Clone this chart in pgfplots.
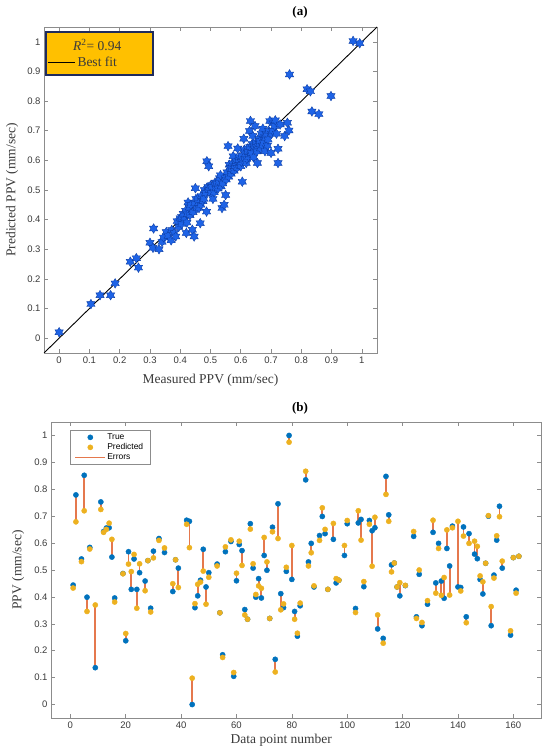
\documentclass[border=0pt]{standalone}
\usepackage{fontspec}
\setmainfont{Liberation Serif}
\newfontfamily\sansf{Liberation Sans}
\usepackage{pgfplots}
\usepackage{pgfplotstable}
\pgfplotsset{compat=1.18}

\definecolor{mblue}{HTML}{0072BD}
\definecolor{morange}{HTML}{EDB120}
\definecolor{merr}{HTML}{E5784D}
\definecolor{starfill}{HTML}{1E63E6}
\definecolor{staredge}{HTML}{0D3FA8}
\definecolor{axgray}{HTML}{8C8C8C}
\definecolor{tickgray}{HTML}{3A3A3A}
\definecolor{gold}{HTML}{FFC000}
\definecolor{navy}{HTML}{1F2B5C}

% filled six-pointed star
\pgfdeclareplotmark{hexstar}{%
  \pgfpathmoveto{\pgfqpointpolar{90}{\pgfplotmarksize}}%
  \pgfpathlineto{\pgfqpointpolar{120}{0.577\pgfplotmarksize}}%
  \pgfpathlineto{\pgfqpointpolar{150}{\pgfplotmarksize}}%
  \pgfpathlineto{\pgfqpointpolar{180}{0.577\pgfplotmarksize}}%
  \pgfpathlineto{\pgfqpointpolar{210}{\pgfplotmarksize}}%
  \pgfpathlineto{\pgfqpointpolar{240}{0.577\pgfplotmarksize}}%
  \pgfpathlineto{\pgfqpointpolar{270}{\pgfplotmarksize}}%
  \pgfpathlineto{\pgfqpointpolar{300}{0.577\pgfplotmarksize}}%
  \pgfpathlineto{\pgfqpointpolar{330}{\pgfplotmarksize}}%
  \pgfpathlineto{\pgfqpointpolar{0}{0.577\pgfplotmarksize}}%
  \pgfpathlineto{\pgfqpointpolar{30}{\pgfplotmarksize}}%
  \pgfpathlineto{\pgfqpointpolar{60}{0.577\pgfplotmarksize}}%
  \pgfpathclose
  \pgfusepathqfillstroke}

% horizontal bar, used only as the legend glyph of the error segments
\pgfdeclareplotmark{errbar}{%
  \pgfpathmoveto{\pgfqpoint{-15pt}{0pt}}%
  \pgfpathlineto{\pgfqpoint{15pt}{0pt}}%
  \pgfusepathqstroke}

% (a) measured vs predicted
\pgfplotstableread{
m p
0.000 0.020
0.105 0.115
0.135 0.145
0.170 0.145
0.185 0.185
0.235 0.258
0.255 0.270
0.262 0.238
0.300 0.322
0.310 0.305
0.312 0.370
0.330 0.300
0.340 0.325
0.345 0.340
0.354 0.358
0.360 0.345
0.370 0.330
0.372 0.365
0.380 0.355
0.385 0.343
0.390 0.395
0.395 0.375
0.400 0.405
0.405 0.385
0.405 0.410
0.410 0.420
0.415 0.400
0.418 0.430
0.420 0.355
0.422 0.390
0.424 0.418
0.426 0.458
0.430 0.440
0.432 0.415
0.435 0.450
0.440 0.366
0.442 0.425
0.446 0.343
0.448 0.455
0.450 0.506
0.452 0.470
0.455 0.438
0.458 0.470
0.460 0.455
0.462 0.439
0.466 0.388
0.468 0.450
0.470 0.480
0.475 0.462
0.478 0.470
0.480 0.500
0.484 0.490
0.487 0.427
0.488 0.597
0.492 0.510
0.494 0.580
0.495 0.500
0.500 0.515
0.502 0.490
0.505 0.511
0.508 0.470
0.512 0.492
0.515 0.525
0.518 0.505
0.520 0.522
0.525 0.505
0.528 0.525
0.530 0.540
0.533 0.550
0.535 0.512
0.538 0.439
0.540 0.522
0.545 0.450
0.548 0.540
0.550 0.483
0.552 0.535
0.555 0.560
0.558 0.648
0.560 0.545
0.562 0.585
0.565 0.575
0.568 0.555
0.570 0.570
0.572 0.590
0.575 0.614
0.578 0.565
0.580 0.580
0.583 0.590
0.585 0.597
0.588 0.575
0.590 0.640
0.593 0.600
0.595 0.610
0.596 0.585
0.600 0.580
0.602 0.595
0.603 0.615
0.605 0.528
0.607 0.600
0.610 0.673
0.612 0.636
0.613 0.605
0.615 0.620
0.618 0.591
0.620 0.605
0.622 0.640
0.623 0.630
0.626 0.612
0.629 0.699
0.630 0.645
0.632 0.733
0.633 0.620
0.635 0.625
0.638 0.655
0.640 0.682
0.642 0.610
0.643 0.650
0.645 0.640
0.647 0.716
0.650 0.660
0.652 0.645
0.653 0.630
0.655 0.591
0.657 0.648
0.660 0.672
0.662 0.655
0.663 0.665
0.665 0.640
0.668 0.690
0.672 0.650
0.673 0.707
0.675 0.660
0.679 0.679
0.680 0.631
0.682 0.675
0.685 0.690
0.688 0.650
0.690 0.670
0.692 0.700
0.696 0.733
0.700 0.625
0.702 0.690
0.705 0.700
0.708 0.725
0.712 0.716
0.714 0.735
0.718 0.690
0.723 0.639
0.723 0.591
0.730 0.721
0.745 0.682
0.754 0.727
0.759 0.701
0.761 0.890
0.819 0.840
0.830 0.833
0.835 0.765
0.858 0.756
0.898 0.817
0.971 1.003
0.993 0.995
}\tabA

% (b) data point number, true, predicted
\pgfplotstableread{
n T P
1 0.444 0.433
2 0.779 0.679
4 0.541 0.531
5 0.852 0.720
6 0.399 0.346
7 0.584 0.578
9 0.137 0.370
11 0.753 0.725
12 0.643 0.640
13 0.656 0.651
14 0.657 0.674
15 0.548 0.614
16 0.396 0.381
19 0.487 0.486
20 0.237 0.264
21 0.568 0.522
22 0.428 0.494
23 0.541 0.558
24 0.428 0.358
25 0.490 0.523
27 0.459 0.423
28 0.535 0.535
29 0.358 0.344
30 0.570 0.545
32 0.617 0.610
34 0.565 0.582
37 0.420 0.449
38 0.538 0.538
39 0.507 0.435
42 0.685 0.670
43 0.681 0.583
44 0.000 0.098
45 0.360 0.375
46 0.404 0.447
47 0.462 0.455
48 0.577 0.496
49 0.437 0.373
50 0.490 0.473
53 0.522 0.515
54 0.341 0.341
55 0.185 0.175
56 0.568 0.586
58 0.606 0.612
59 0.105 0.119
60 0.460 0.488
61 0.595 0.607
62 0.572 0.517
63 0.353 0.333
64 0.317 0.317
65 0.672 0.652
66 0.507 0.523
67 0.399 0.409
68 0.468 0.441
69 0.396 0.432
70 0.554 0.621
71 0.499 0.530
72 0.320 0.320
73 0.659 0.642
74 0.168 0.121
75 0.746 0.617
76 0.412 0.352
77 0.360 0.374
78 0.495 0.510
79 1.000 0.975
80 0.465 0.591
81 0.346 0.317
82 0.254 0.265
83 0.367 0.377
85 0.835 0.867
86 0.530 0.515
87 0.599 0.564
88 0.437 0.441
90 0.628 0.610
91 0.699 0.731
92 0.635 0.651
93 0.428 0.428
95 0.614 0.673
96 0.452 0.468
97 0.462 0.462
99 0.554 0.591
100 0.672 0.684
103 0.357 0.342
104 0.675 0.720
105 0.688 0.611
106 0.438 0.457
108 0.684 0.670
109 0.646 0.514
110 0.657 0.696
111 0.281 0.333
113 0.246 0.228
114 0.848 0.781
115 0.705 0.681
116 0.519 0.493
117 0.526 0.526
118 0.437 0.437
119 0.404 0.453
121 0.442 0.443
124 0.625 0.643
125 0.326 0.320
126 0.484 0.500
127 0.293 0.305
129 0.373 0.386
131 0.640 0.685
132 0.452 0.414
133 0.599 0.580
134 0.459 0.406
135 0.395 0.472
136 0.580 0.649
137 0.515 0.407
138 0.663 0.657
140 0.437 0.681
141 0.435 0.422
142 0.660 0.626
143 0.326 0.304
144 0.635 0.599
146 0.559 0.607
147 0.542 0.588
148 0.465 0.478
149 0.411 0.456
150 0.525 0.525
151 0.700 0.702
152 0.293 0.364
153 0.481 0.470
154 0.611 0.627
155 0.737 0.698
156 0.507 0.533
159 0.258 0.274
160 0.546 0.546
161 0.425 0.414
162 0.551 0.551
}\tabB

\pgfplotsset{
  mstyle/.style={
    scale only axis,
    axis line style={axgray, line width=0.6pt},
    tick style={axgray, line width=0.6pt},
    tick align=inside,
    major tick length=4pt,
    tick label style={font=\sansf\fontsize{9.5}{9.5}\selectfont, text=tickgray},
    /pgf/number format/assume math mode=true,
    label style={font=\fontsize{13.5}{14}\selectfont, text=tickgray},
    ytick={0,0.1,0.2,0.3,0.4,0.5,0.6,0.7,0.8,0.9,1},
    ymin=-0.05, ymax=1.05,
  },
  dotlegend/.style={legend image code/.code={%
    \draw[mark repeat=2,mark phase=2,##1] plot coordinates {(0pt,0pt)(15pt,0pt)(30pt,0pt)};}},
  errlegend/.style={legend image code/.code={%
    \draw[only marks, mark=errbar, mark options={draw=merr, color=merr, line width=1.6pt}]
      plot coordinates {(15pt,0pt)};}},
}

\begin{document}
\begin{tikzpicture}
\path[use as bounding box] (0pt,0pt) rectangle (550pt,755pt);

\node[font=\bfseries\fontsize{13}{13}\selectfont] at (300pt,743pt) {(a)};
\node[font=\bfseries\fontsize{13}{13}\selectfont] at (300pt,347pt) {(b)};

\begin{axis}[mstyle,
  at={(44pt,402pt)}, anchor=south west, width=333pt, height=326pt,
  xmin=-0.05, xmax=1.05,
  xtick={0,0.1,0.2,0.3,0.4,0.5,0.6,0.7,0.8,0.9,1},
  xlabel={Measured PPV (mm/sec)},
  ylabel={Predicted PPV (mm/sec)},
  xlabel style={at={(rel axis cs:0.5,-0.083)}, anchor=center},
  ylabel style={at={(rel axis cs:-0.096,0.5)}, anchor=center},
]
\addplot[only marks, mark=hexstar, mark size=4.8pt,
  mark options={fill=starfill, draw=staredge, line width=0.4pt}] table[x=m,y=p] {\tabA};
\addplot[black, line width=0.9pt] coordinates {(-0.05,-0.05) (1.05,1.05)};
\draw[fill=gold, draw=navy, line width=1.6pt]
  (rel axis cs:0.006,0.853) rectangle (rel axis cs:0.327,0.984);
\node[font=\fontsize{13.5}{14}\selectfont, text=tickgray] at (rel axis cs:0.16,0.945)
  {\textit{R}\textsuperscript{2}= 0.94};
\draw[black, line width=1pt] (rel axis cs:0.012,0.892) -- (rel axis cs:0.094,0.892);
\node[anchor=west, inner sep=1pt, font=\fontsize{13.5}{14}\selectfont, text=tickgray]
  at (rel axis cs:0.097,0.892) {Best fit};
\end{axis}

\begin{axis}[mstyle,
  at={(51pt,37pt)}, anchor=south west, width=490pt, height=296pt,
  xmin=-7, xmax=170,
  xtick={0,20,40,60,80,100,120,140,160},
  xlabel={Data point number},
  ylabel={PPV (mm/sec)},
  xlabel style={at={(rel axis cs:0.47,-0.074)}, anchor=center},
  ylabel style={at={(rel axis cs:-0.067,0.5)}, anchor=center},
  legend style={at={(0.039,0.973)}, anchor=north west, draw=axgray,
    font=\sansf\fontsize{8.5}{9}\selectfont, row sep=-1.5pt,
    inner ysep=1.5pt, inner xsep=5pt},
  legend cell align=left,
]
% error segments, drawn first so that the dots sit on top
\addplot[quiver={u=0, v=\thisrow{P}-\thisrow{T}}, draw=merr, line width=1.8pt, forget plot]
  table[x=n,y=T] {\tabB};
\addplot[only marks, mark=*, mark size=2.6pt, mark options={fill=mblue, draw=mblue}, dotlegend]
  table[x=n,y=T] {\tabB};
\addlegendentry{True}
\addplot[only marks, mark=*, mark size=2.6pt, mark options={fill=morange, draw=morange}, dotlegend]
  table[x=n,y=P] {\tabB};
\addlegendentry{Predicted}
\addlegendimage{errlegend}
\addlegendentry{Errors}
\end{axis}
\end{tikzpicture}
\end{document}
